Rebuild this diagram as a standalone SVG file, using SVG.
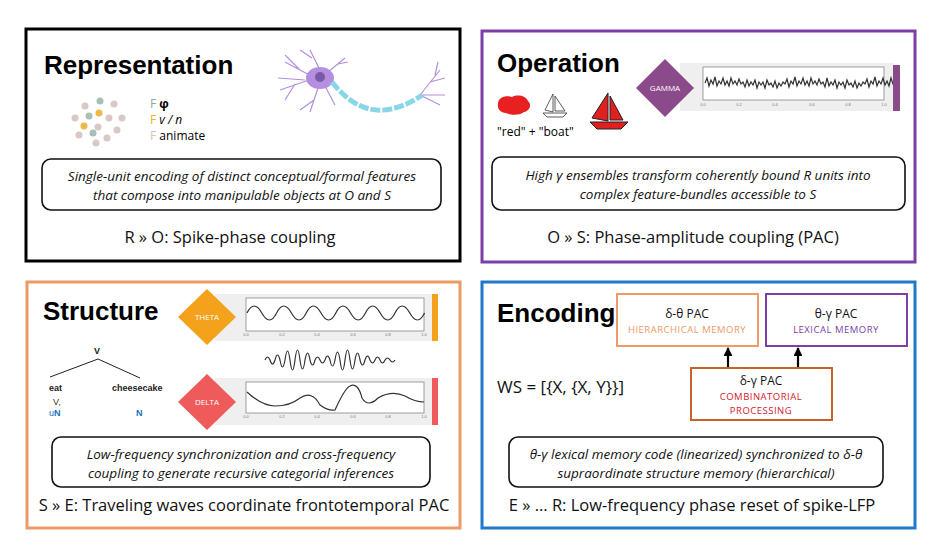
<svg xmlns="http://www.w3.org/2000/svg" width="944" height="559" viewBox="0 0 944 559">
<style>
.title{font-family:"Liberation Sans",Arial,sans-serif;font-weight:bold;font-size:26px;fill:#000}
.it{font-family:"Open Sans",sans-serif;font-style:italic;font-size:13.5px;fill:#111;text-anchor:middle}
.bot{font-family:"Open Sans",sans-serif;font-size:16.5px;fill:#111;text-anchor:middle}
.cap{fill:#fff;stroke:#111;stroke-width:1.6}
.bg{fill:#efefef}
.frame{fill:#fff;stroke:#888;stroke-width:0.8}
.wave{fill:none;stroke:#333;stroke-width:1.2}
.tick{font-family:"Liberation Sans",sans-serif;font-size:4px;fill:#777;text-anchor:middle}
.dl{font-family:"Open Sans",sans-serif;font-size:8px;fill:#fff;text-anchor:middle}
.bx{font-family:"Open Sans",sans-serif;font-size:12px;fill:#111;text-anchor:middle}
.bs{font-family:"Open Sans",sans-serif;font-size:9.5px;text-anchor:middle;letter-spacing:0.5px}
.tr{font-family:"Liberation Sans",sans-serif;font-weight:bold;font-size:9px;fill:#222}
</style>
<defs>
<marker id="ar" viewBox="0 0 10 10" refX="9" refY="5" markerWidth="4" markerHeight="4" orient="auto"><path d="M0,0L10,5L0,10z" fill="#000"/></marker>
</defs>
<rect width="944" height="559" fill="#fff"/>

<g id="representation">
<rect x="26" y="29" width="434" height="232" fill="none" stroke="#000" stroke-width="3"/>
<text class="title" x="44" y="74">Representation</text>
<g fill="#d9c9c4">
<circle cx="85" cy="106" r="3.5"/><circle cx="100" cy="101" r="3.5" fill="#a9c0b6"/><circle cx="114" cy="104" r="3.5"/>
<circle cx="75" cy="118" r="3.5"/><circle cx="89" cy="116" r="3.5" fill="#a9c0b6"/><circle cx="99" cy="113" r="3.5" fill="#f0b848"/><circle cx="109" cy="118" r="3.5"/><circle cx="122" cy="118" r="3.5"/>
<circle cx="84" cy="126" r="3.5" fill="#f0b848"/><circle cx="98" cy="127" r="3.5"/><circle cx="117" cy="130" r="3.5"/>
<circle cx="79" cy="135" r="3.5"/><circle cx="93" cy="133" r="3.5" fill="#a9c0b6"/><circle cx="107" cy="138" r="3.5"/><circle cx="96" cy="143" r="3.5"/>
</g>
<g font-family="Open Sans,sans-serif" font-size="12px">
<text x="150" y="108"><tspan fill="#8aa89c">F</tspan> <tspan font-weight="bold">φ</tspan></text>
<text x="150" y="124"><tspan fill="#f0b030">F</tspan> <tspan font-style="italic">v / n</tspan></text>
<text x="150" y="140"><tspan fill="#d8c0bb">F</tspan> animate</text>
</g>
<g id="neuron" stroke="#b48ee0" stroke-width="1.2" fill="none">
<path d="M315,78L285,62M300,70L285,55M315,78L280,90M295,84L285,100M320,70L310,50M312,58L300,50M328,72L345,58M338,64L348,62M318,88L310,112M314,100L300,110M325,86L335,105M305,80L278,78"/>
<path d="M420,95L440,70M430,82L445,78M435,75L438,62M420,95L445,95M420,95L440,105"/>
</g>
<ellipse cx="320" cy="78" rx="14" ry="11" fill="#b48ee0"/>
<circle cx="320" cy="77" r="5" fill="#7a5aa8"/>
<path d="M332,82 Q360,118 395,108 Q410,104 422,95" fill="none" stroke="#8ad6e8" stroke-width="5" stroke-dasharray="10,2"/>
<rect class="cap" x="42" y="159" width="399" height="51" rx="9"/>
<text class="it" x="242" y="181">Single-unit encoding of distinct conceptual/formal features</text>
<text class="it" x="242" y="200">that compose into manipulable objects at O and S</text>
<text class="bot" x="230" y="243">R » O: Spike-phase coupling</text>
</g>

<g id="operation">
<rect x="482" y="31" width="433" height="231" fill="none" stroke="#7b3fa6" stroke-width="3"/>
<text class="title" x="497" y="72">Operation</text>
<path d="M498,104c0-7 8-9 14-7c6-3 14-1 16,4c4,3 2,10-4,11c-5,4-14,3-18,1c-6,0-9-5-8-9z" fill="#e82020"/>
<path d="M553,94L553,112L545,110zM555,96L565,111L555,111z" fill="#fff" stroke="#333" stroke-width="0.8"/>
<path d="M543,113L567,113L563,117L547,117z" fill="#fff" stroke="#333" stroke-width="0.8"/>
<path d="M608,93L608,121L592,118zM610,96L623,120L610,120z" fill="#e02020" stroke="#222" stroke-width="1"/>
<path d="M590,122L628,122L621,129L597,129z" fill="#e02020" stroke="#222" stroke-width="1"/>
<text x="497" y="136" font-family="Open Sans,sans-serif" font-size="12px">"red" + "boat"</text>
<rect class="bg" x="680" y="63" width="214" height="48"/>
<path d="M665,59L694,88L665,117L636,88z" fill="#8b4a8a"/>
<text class="dl" x="665" y="91">GAMMA</text>
<rect class="frame" x="703" y="67" width="181" height="33"/>
<path class="wave" d="M705,83l2,-5l2,8l2,-6l2,4l2,-7l2,9l2,-5l2,3l2,-6l2,7l2,-4l2,5l2,-8l2,6l2,-3l2,4l2,-6l2,5l2,-2l2,5l2,-7l2,6l2,-4l2,3l2,-5l2,8l2,-6l2,3l2,-3l2,6l2,-8l2,5l2,-2l2,4l2,-6l2,7l2,-5l2,3l2,-4l2,2l2,-5l2,8l2,-6l2,3l2,-7l2,9l2,-5l2,3l2,-6l2,7l2,-4l2,5l2,-8l2,6l2,-3l2,4l2,-6l2,5l2,-2l2,5l2,-9l2,8l2,-4l2,3l2,-5l2,8l2,-6l2,3l2,-3l2,6l2,-8l2,5l2,-2l2,4l2,-6l2,7l2,-5l2,3l2,-4l2,2l2,-5l2,8l2,-6l2,3l2,-7l2,9l2,-5l2,3l2,-6l2,7l2,-4l2,5l2,-8l2,6l2,-3l2,4"/>
<g class="tick"><text x="703" y="106">0.0</text><text x="739" y="106">0.2</text><text x="775" y="106">0.4</text><text x="812" y="106">0.6</text><text x="848" y="106">0.8</text><text x="884" y="106">1.0</text></g>
<rect x="893" y="65" width="7" height="46" fill="#8b4a8a"/>
<rect class="cap" x="492" y="157" width="413" height="53" rx="9"/>
<text class="it" x="698" y="180">High γ ensembles transform coherently bound R units into</text>
<text class="it" x="698" y="199">complex feature-bundles accessible to S</text>
<text class="bot" x="693" y="243">O » S: Phase-amplitude coupling (PAC)</text>
</g>

<g id="structure">
<rect x="27" y="282" width="433" height="246" fill="none" stroke="#ec9a66" stroke-width="3"/>
<text class="title" x="43" y="320">Structure</text>
<text class="tr" x="94" y="354">V</text>
<path d="M98,359L50,377M98,359L140,378" stroke="#222" stroke-width="1"/>
<text class="tr" x="49" y="391">eat</text>
<text class="tr" x="112" y="391">cheesecake</text>
<text x="53" y="405" font-family="Liberation Sans,sans-serif" font-size="9px" fill="#333">V,</text>
<text x="49" y="416" font-family="Liberation Sans,sans-serif" font-size="9px" fill="#1a6fc0">u<tspan font-weight="bold">N</tspan></text>
<text x="136" y="416" font-family="Liberation Sans,sans-serif" font-size="9px" font-weight="bold" fill="#1a6fc0">N</text>
<rect class="bg" x="215" y="294" width="223" height="47"/>
<path d="M207,289L236,317L207,345L178,317z" fill="#f4a21c"/>
<text class="dl" x="207" y="320">THETA</text>
<rect class="frame" x="246" y="298" width="178" height="33"/>
<path class="wave" d="M247,313q7,-14 14.8,0t14.8,0t14.8,0t14.8,0t14.8,0t14.8,0t14.8,0t14.8,0t14.8,0t14.8,0t14.8,0t14.8,0"/>
<g class="tick"><text x="246" y="336">0.0</text><text x="282" y="336">0.2</text><text x="317" y="336">0.4</text><text x="353" y="336">0.6</text><text x="388" y="336">0.8</text><text x="424" y="336">1.0</text></g>
<rect x="432" y="294" width="6" height="47" fill="#f4a21c"/>
<path class="wave" d="M265,360q2.5,-6 5,0q2.5,8 5,0q2.5,-10 5,0q2.5,14 5,0q2.5,-18 5,0q2.5,20 5,0q2.5,-20 5,0q2.5,18 5,0q2.5,-14 5,0q2.5,10 5,0q2.5,-6 5,0q2.5,6 5,0q2.5,-8 5,0q2.5,12 5,0q2.5,-16 5,0q2.5,20 5,0q2.5,-20 5,0q2.5,18 5,0q2.5,-14 5,0q2.5,10 5,0q2.5,-8 5,0q2.5,6 5,0q2.5,-6 5,0q2.5,6 5,0q2.5,-4 5,0q2.5,4 5,0"/>
<rect class="bg" x="215" y="378" width="223" height="47"/>
<path d="M207,374L236,402L207,430L178,402z" fill="#ef5b5b"/>
<text class="dl" x="207" y="405">DELTA</text>
<rect class="frame" x="246" y="382" width="178" height="31"/>
<path class="wave" d="M247,392Q262,406 275,406Q290,406 300,398Q312,390 320,405Q328,411 335,410Q345,388 350,386Q358,382 362,398Q368,408 378,398Q392,390 405,396Q415,402 424,402"/>
<g class="tick"><text x="246" y="418">0.0</text><text x="282" y="418">0.2</text><text x="317" y="418">0.4</text><text x="353" y="418">0.6</text><text x="388" y="418">0.8</text><text x="424" y="418">1.0</text></g>
<rect x="432" y="378" width="6" height="47" fill="#ef5b5b"/>
<rect class="cap" x="52" y="437" width="378" height="50" rx="9"/>
<text class="it" x="241" y="459">Low-frequency synchronization and cross-frequency</text>
<text class="it" x="241" y="478">coupling to generate recursive categorial inferences</text>
<text class="bot" x="244" y="511">S » E: Traveling waves coordinate frontotemporal PAC</text>
</g>

<g id="encoding">
<rect x="482" y="282" width="433" height="246" fill="none" stroke="#1f78c8" stroke-width="3"/>
<text class="title" x="497" y="322">Encoding</text>
<text x="497" y="393" font-family="Open Sans,sans-serif" font-size="17px" fill="#111">WS = [{X, {X, Y}}]</text>
<g id="hier"><rect x="617" y="294" width="141" height="52" fill="#fff" stroke="#ec9a66" stroke-width="2"/>
<text class="bx" x="687" y="318">δ-θ PAC</text><text class="bs" x="687" y="333" fill="#ec9a66">HIERARCHICAL MEMORY</text></g>
<g id="lex"><rect x="766" y="294" width="141" height="52" fill="#fff" stroke="#7b3fa6" stroke-width="2"/>
<text class="bx" x="836" y="318">θ-γ PAC</text><text class="bs" x="836" y="333" fill="#7b3fa6">LEXICAL MEMORY</text></g>
<g id="comb"><rect x="691" y="368" width="141" height="52" fill="#fff" stroke="#c8622a" stroke-width="2"/>
<text class="bx" x="761" y="385">δ-γ PAC</text><text class="bs" x="761" y="400" fill="#d0202a">COMBINATORIAL</text><text class="bs" x="761" y="414" fill="#d0202a">PROCESSING</text></g>
<rect class="cap" x="509" y="437" width="374" height="50" rx="9"/>
<text class="it" x="696" y="459">θ-γ lexical memory code (linearized) synchronized to δ-θ</text>
<text class="it" x="696" y="478">supraordinate structure memory (hierarchical)</text>
<text class="bot" x="692" y="511">E » ... R: Low-frequency phase reset of spike-LFP</text>
</g>

<g id="connectors" stroke="#000" stroke-width="2.2" marker-end="url(#ar)">
<line x1="728" y1="367" x2="728" y2="348"/>
<line x1="798" y1="367" x2="798" y2="348"/>
</g>
</svg>
